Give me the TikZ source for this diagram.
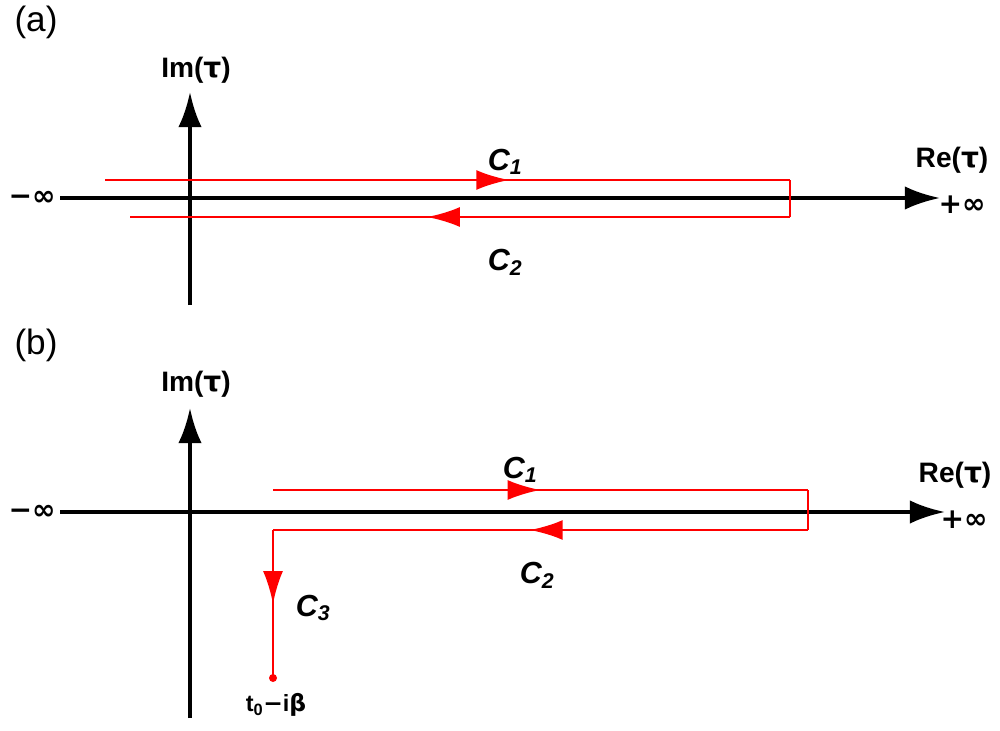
\documentclass[tikz,border=0pt]{standalone}
\usepackage{fontspec}
\setmainfont{Liberation Sans}
\newfontfamily\symf{DejaVu Sans}
\usetikzlibrary{arrows.meta,decorations.markings}
\begin{document}
\begin{tikzpicture}[x=0.03cm,y=-0.03cm,
  axis/.style={line width=3.3pt,-{Latex[length=30pt,width=20pt]}},
  path/.style={red,line width=2.4pt},
  lbl/.style={font=\fontsize{24}{28}\selectfont\bfseries},
  clbl/.style={font=\fontsize{26}{30}\selectfont\bfseries\itshape},
  pl/.style={font=\fontsize{30}{34}\selectfont},
  mk/.style={postaction={decorate},decoration={markings,mark=at position #1 with {\arrow{Latex[length=28pt,width=17pt]}}}}]
\useasboundingbox (0,0) rectangle (1000,731);
% (a)
\node[pl] (pa) at (36,22) {(a)};
\coordinate (a1) at (60,198); \coordinate (a2) at (940,198);
\coordinate (a3) at (190,305); \coordinate (a4) at (190,92);
\draw[axis] (a1) -- (a2);
\draw[axis] (a3) -- (a4);
\node[lbl] (ima) at (196,70) {Im({\symf τ})};
\node[lbl] (rea) at (952,160) {Re({\symf τ})};
\node[lbl] (mia) at (32,198) {{\symf −∞}};
\node[lbl] (pia) at (962,205) {{\symf +∞}};
\coordinate (c1s) at (105,180); \coordinate (c1e) at (790,180);
\coordinate (c2s) at (790,217); \coordinate (c2e) at (130,217);
\draw[path,mk=0.59] (c1s) -- (c1e);
\draw[path] (c1e) -- (c2s);
\draw[path,mk=0.55] (c2s) -- (c2e);
\node[clbl] (ca1) at (505,162) {C\textsubscript{1}};
\node[clbl] (ca2) at (505,262) {C\textsubscript{2}};
% (b)
\node[pl] (pb) at (36,345) {(b)};
\coordinate (b1) at (60,512); \coordinate (b2) at (945,512);
\coordinate (b3) at (190,718); \coordinate (b4) at (190,408);
\draw[axis] (b1) -- (b2);
\draw[axis] (b3) -- (b4);
\node[lbl] (imb) at (196,384) {Im({\symf τ})};
\node[lbl] (reb) at (955,475) {Re({\symf τ})};
\node[lbl] (mib) at (32,512) {{\symf −∞}};
\node[lbl] (pib) at (964,520) {{\symf +∞}};
\coordinate (d1s) at (273,490); \coordinate (d1e) at (808,490);
\coordinate (d2s) at (808,530); \coordinate (d2e) at (273,530);
\coordinate (d3e) at (273,678);
\draw[path,mk=0.5] (d1s) -- (d1e);
\draw[path] (d1e) -- (d2s);
\draw[path,mk=0.52] (d2s) -- (d2e);
\draw[path,mk=0.5] (d2e) -- (d3e);
\fill[red] (d3e) circle (4);
\node[clbl] (cb1) at (520,470) {C\textsubscript{1}};
\node[clbl] (cb2) at (537,575) {C\textsubscript{2}};
\node[clbl] (cb3) at (313,608) {C\textsubscript{3}};
\node[lbl,font=\fontsize{20}{24}\selectfont\bfseries] (t0) at (276,705) {t\textsubscript{0}{\symf −}i{\symf β}};
\end{tikzpicture}
\end{document}
